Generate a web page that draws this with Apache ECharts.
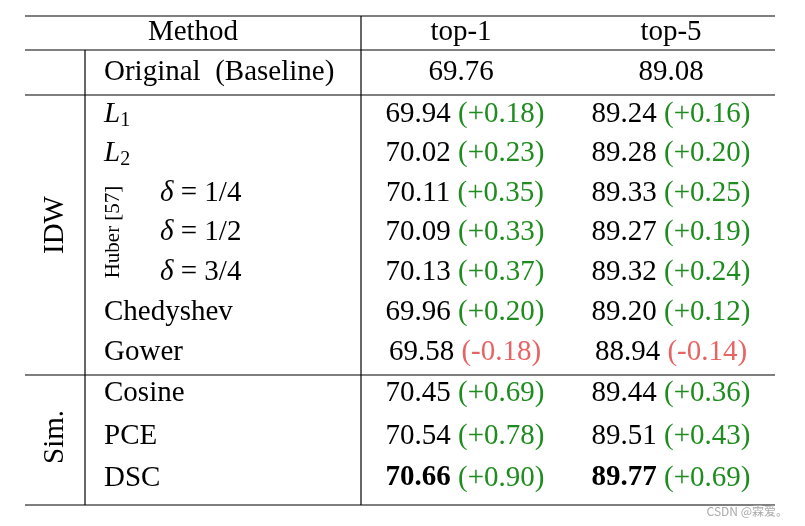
<!DOCTYPE html>
<html><head><meta charset="utf-8">
<script src="https://cdn.jsdelivr.net/npm/echarts@6/dist/echarts.min.js"></script>
<style>html,body{margin:0;background:#fff}#c{width:805px;height:526px}</style>
</head><body><div id="c"></div>
<script>
var methods = ['L1', 'L2', 'δ = 1/4', 'δ = 1/2', 'δ = 3/4', 'Chedyshev', 'Gower', 'Cosine', 'PCE', 'DSC'];
var top1 = ['69.94', '70.02', '70.11', '70.09', '70.13', '69.96', '69.58', '70.45', '70.54', '70.66'];
var diff1 = ['+0.18', '+0.23', '+0.35', '+0.33', '+0.37', '+0.20', '-0.18', '+0.69', '+0.78', '+0.90'];
var top5 = ['89.24', '89.28', '89.33', '89.27', '89.32', '89.20', '88.94', '89.44', '89.51', '89.77'];
var diff5 = ['+0.16', '+0.20', '+0.25', '+0.19', '+0.24', '+0.12', '-0.14', '+0.36', '+0.43', '+0.69'];
var baseline = ['69.76', '89.08'];
var rowY = [114, 153, 193, 232, 272, 312, 352, 393, 436, 478];

var FONT = '"Liberation Serif", "DejaVu Serif", serif';
var FS = 29;
var els = [];
function line(x1, y1, x2, y2) {
  els.push({type: 'line', shape: {x1: x1, y1: y1, x2: x2, y2: y2}, style: {stroke: '#000', lineWidth: 1.2}});
}
function text(t, x, y, opt) {
  opt = opt || {};
  els.push({type: 'text', x: x, y: y, rotation: opt.rot || 0, style: {
    text: t, fill: '#000', fontFamily: FONT, fontSize: opt.size || FS,
    fontStyle: opt.italic ? 'italic' : 'normal', fontWeight: opt.bold ? 'bold' : 'normal',
    align: opt.align || 'left', verticalAlign: 'middle', rich: opt.rich
  }});
}
function valRich(bold) {
  return {
    v: {fontFamily: FONT, fontSize: FS, fontWeight: bold ? 'bold' : 'normal', fill: '#000'},
    g: {fontFamily: FONT, fontSize: FS, fill: '#1e8c1e'},
    r: {fontFamily: FONT, fontSize: FS, fill: '#e86464'},
    i: {fontFamily: FONT, fontSize: FS, fontStyle: 'italic', fill: '#000'},
    s: {fontFamily: FONT, fontSize: 20, fill: '#000', padding: [13, 0, 0, 0]}
  };
}

// rules
line(25, 16, 775, 16);
line(25, 50, 775, 50);
line(25, 95, 775, 95);
line(25, 375, 775, 375);
line(25, 505, 775, 505);
line(361, 16, 361, 505);
line(85, 50, 85, 505);

// header
text('Method', 193, 32, {align: 'center'});
text('top-1', 461, 32, {align: 'center'});
text('top-5', 671, 32, {align: 'center'});
text('Original  (Baseline)', 104, 72);
text(baseline[0], 461, 72, {align: 'center'});
text(baseline[1], 671, 72, {align: 'center'});

text('IDW', 55, 225, {align: 'center', rot: Math.PI / 2});
text('Sim.', 55, 437, {align: 'center', rot: Math.PI / 2});
text('Huber [57]', 113, 232, {align: 'center', rot: Math.PI / 2, size: 21});

methods.forEach(function (m, i) {
  var y = rowY[i];
  if (m === 'L1' || m === 'L2') {
    text('{i|L}{s|' + m.charAt(1) + '}', 104, y, {rich: valRich(false)});
  } else if (m.charAt(0) === 'δ') {
    text('{i|δ} = ' + m.split('= ')[1], 160, y, {rich: valRich(false)});
  } else {
    text(m, 104, y);
  }
  var bold = m === 'DSC';
  var c1 = diff1[i].charAt(0) === '-' ? 'r' : 'g';
  var c5 = diff5[i].charAt(0) === '-' ? 'r' : 'g';
  text('{v|' + top1[i] + '} {' + c1 + '|(' + diff1[i] + ')}', 465, y, {align: 'center', rich: valRich(bold)});
  text('{v|' + top5[i] + '} {' + c5 + '|(' + diff5[i] + ')}', 671, y, {align: 'center', rich: valRich(bold)});
});

els.push({type: 'text', x: 788, y: 511, style: {text: 'CSDN @霖爱。', fill: '#aaa',
  fontFamily: '"Noto Sans CJK SC", sans-serif', fontSize: 12, align: 'right', verticalAlign: 'middle'}});

var chart = echarts.init(document.getElementById('c'));
chart.setOption({backgroundColor: '#fff', graphic: {elements: els}});
</script>
</body></html>
